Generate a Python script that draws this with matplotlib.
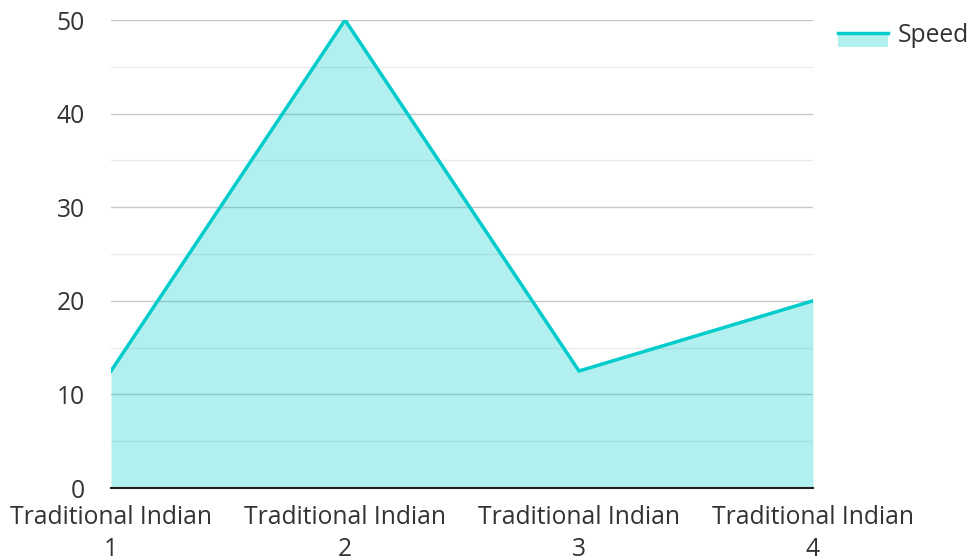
import matplotlib
matplotlib.use("Agg")
import matplotlib.pyplot as plt
from matplotlib.patches import Rectangle
from matplotlib.lines import Line2D
from matplotlib.ticker import MultipleLocator
from matplotlib.legend_handler import HandlerBase

categories = ["Traditional Indian\n1", "Traditional Indian\n2", "Traditional Indian\n3", "Traditional Indian\n4"]
speed = [12.5, 50, 12.5, 20]
series_name = "Speed"

plt.rcParams['font.family'] = ['Open Sans', 'DejaVu Sans']
color = "#00CCCC"
text_color = "#333333"
fs = 17.7

fig = plt.figure(figsize=(9.71, 5.6), dpi=100)
ax = fig.add_axes([111/971, 1 - 488/560, (813 - 111)/971, (488 - 20)/560])

x = list(range(1, len(categories) + 1))
ax.fill_between(x, speed, 0, color=color, alpha=0.3, linewidth=0, zorder=2)
ax.plot(x, speed, color=color, linewidth=2.5, zorder=3, solid_joinstyle='miter')

ax.set_xlim(1, len(categories))
ax.set_ylim(0, 50)
ax.yaxis.set_major_locator(MultipleLocator(10))
ax.yaxis.set_minor_locator(MultipleLocator(5))
ax.grid(which='major', axis='y', color='#c8c8c8', linewidth=1, zorder=1)
ax.grid(which='minor', axis='y', color='#ebebeb', linewidth=1, zorder=1)
ax.set_axisbelow(True)

ax.set_xticks(x)
ax.set_xticklabels(categories, fontsize=fs, color=text_color, linespacing=1.38)
ax.tick_params(axis='y', which='both', length=0, pad=18.7, labelsize=fs, labelcolor=text_color)
ax.tick_params(axis='x', length=0, pad=12)

for s in ['top', 'right', 'left']:
    ax.spines[s].set_visible(False)
ax.spines['bottom'].set_color('#222222')
ax.spines['bottom'].set_linewidth(1.5)
ax.spines['bottom'].set_zorder(4)


class AreaHandler(HandlerBase):
    def create_artists(self, legend, orig_handle, xdescent, ydescent, width, height, fontsize, trans):
        shift = 4.0
        h = height * 0.85
        y0 = -ydescent - shift
        rect = Rectangle((-xdescent, y0), width, h, facecolor=color, alpha=0.3,
                         edgecolor='none', transform=trans)
        line = Line2D([-xdescent, -xdescent + width], [y0 + h, y0 + h],
                      color=color, linewidth=2.5, transform=trans)
        return [rect, line]


handle = Rectangle((0, 0), 1, 1)
leg = fig.legend([handle], [series_name], loc='upper left', bbox_to_anchor=(838/971, 1 - 23/560),
                 frameon=False, fontsize=fs, handlelength=2.05, handleheight=0.6, handletextpad=0.37,
                 borderpad=0, borderaxespad=0,
                 handler_map={Rectangle: AreaHandler()})
for t in leg.get_texts():
    t.set_color(text_color)

fig.savefig("out.png", dpi=100)
